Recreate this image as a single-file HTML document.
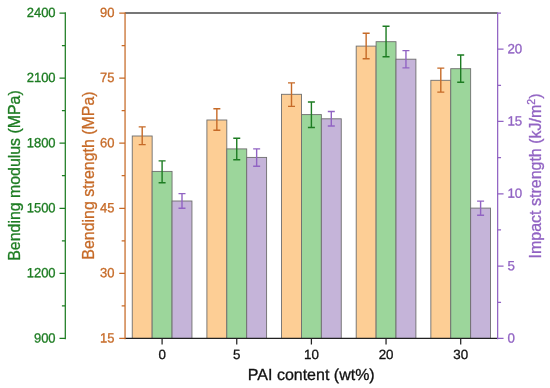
<!DOCTYPE html>
<html><head><meta charset="utf-8"><title>chart</title>
<style>html,body{margin:0;padding:0;background:#fff}svg{display:block}text{font-family:"Liberation Sans",sans-serif;stroke-width:0.3px}</style></head><body>
<svg width="550" height="388" viewBox="0 0 550 388">
<rect width="550" height="388" fill="#fff"/>
<rect x="132.25" y="136.00" width="19.90" height="202.45" fill="#fdce95" stroke="#6e6e6e" stroke-width="0.9"/>
<rect x="152.15" y="171.40" width="19.90" height="167.05" fill="#9cd69b" stroke="#6e6e6e" stroke-width="0.9"/>
<rect x="172.05" y="201.00" width="19.90" height="137.45" fill="#c5b4d9" stroke="#6e6e6e" stroke-width="0.9"/>
<rect x="206.90" y="120.00" width="19.90" height="218.45" fill="#fdce95" stroke="#6e6e6e" stroke-width="0.9"/>
<rect x="226.80" y="148.90" width="19.90" height="189.55" fill="#9cd69b" stroke="#6e6e6e" stroke-width="0.9"/>
<rect x="246.70" y="157.40" width="19.90" height="181.05" fill="#c5b4d9" stroke="#6e6e6e" stroke-width="0.9"/>
<rect x="281.55" y="94.30" width="19.90" height="244.15" fill="#fdce95" stroke="#6e6e6e" stroke-width="0.9"/>
<rect x="301.45" y="114.60" width="19.90" height="223.85" fill="#9cd69b" stroke="#6e6e6e" stroke-width="0.9"/>
<rect x="321.35" y="118.80" width="19.90" height="219.65" fill="#c5b4d9" stroke="#6e6e6e" stroke-width="0.9"/>
<rect x="356.20" y="46.10" width="19.90" height="292.35" fill="#fdce95" stroke="#6e6e6e" stroke-width="0.9"/>
<rect x="376.10" y="41.70" width="19.90" height="296.75" fill="#9cd69b" stroke="#6e6e6e" stroke-width="0.9"/>
<rect x="396.00" y="59.20" width="19.90" height="279.25" fill="#c5b4d9" stroke="#6e6e6e" stroke-width="0.9"/>
<rect x="430.85" y="80.30" width="19.90" height="258.15" fill="#fdce95" stroke="#6e6e6e" stroke-width="0.9"/>
<rect x="450.75" y="68.70" width="19.90" height="269.75" fill="#9cd69b" stroke="#6e6e6e" stroke-width="0.9"/>
<rect x="470.65" y="208.10" width="19.90" height="130.35" fill="#c5b4d9" stroke="#6e6e6e" stroke-width="0.9"/>
<path d="M142.20 126.90V144.60M138.70 126.90H145.70M138.70 144.60H145.70" stroke="#c66a27" stroke-width="1.4" fill="none"/>
<path d="M162.10 160.90V182.70M158.60 160.90H165.60M158.60 182.70H165.60" stroke="#1d7c22" stroke-width="1.4" fill="none"/>
<path d="M182.00 193.60V208.30M178.50 193.60H185.50M178.50 208.30H185.50" stroke="#9163c3" stroke-width="1.4" fill="none"/>
<path d="M216.85 108.70V130.30M213.35 108.70H220.35M213.35 130.30H220.35" stroke="#c66a27" stroke-width="1.4" fill="none"/>
<path d="M236.75 138.20V159.70M233.25 138.20H240.25M233.25 159.70H240.25" stroke="#1d7c22" stroke-width="1.4" fill="none"/>
<path d="M256.65 148.90V166.30M253.15 148.90H260.15M253.15 166.30H260.15" stroke="#9163c3" stroke-width="1.4" fill="none"/>
<path d="M291.50 82.90V106.40M288.00 82.90H295.00M288.00 106.40H295.00" stroke="#c66a27" stroke-width="1.4" fill="none"/>
<path d="M311.40 102.00V127.50M307.90 102.00H314.90M307.90 127.50H314.90" stroke="#1d7c22" stroke-width="1.4" fill="none"/>
<path d="M331.30 111.50V126.00M327.80 111.50H334.80M327.80 126.00H334.80" stroke="#9163c3" stroke-width="1.4" fill="none"/>
<path d="M366.15 33.20V58.80M362.65 33.20H369.65M362.65 58.80H369.65" stroke="#c66a27" stroke-width="1.4" fill="none"/>
<path d="M386.05 26.30V56.70M382.55 26.30H389.55M382.55 56.70H389.55" stroke="#1d7c22" stroke-width="1.4" fill="none"/>
<path d="M405.95 50.60V67.90M402.45 50.60H409.45M402.45 67.90H409.45" stroke="#9163c3" stroke-width="1.4" fill="none"/>
<path d="M440.80 68.10V92.10M437.30 68.10H444.30M437.30 92.10H444.30" stroke="#c66a27" stroke-width="1.4" fill="none"/>
<path d="M460.70 55.00V82.30M457.20 55.00H464.20M457.20 82.30H464.20" stroke="#1d7c22" stroke-width="1.4" fill="none"/>
<path d="M480.60 201.10V215.30M477.10 201.10H484.10M477.10 215.30H484.10" stroke="#9163c3" stroke-width="1.4" fill="none"/>
<path d="M125.05 13.0H497.65" stroke="#4a4a4a" stroke-width="1.4" fill="none"/>
<path d="M125.05 338.45H497.65" stroke="#222" stroke-width="1.3" fill="none"/>
<path d="M162.10 338.45V344.45M236.75 338.45V344.45M311.40 338.45V344.45M386.05 338.45V344.45M460.70 338.45V344.45" stroke="#242424" stroke-width="1.25" fill="none"/>
<text transform="translate(162.10 359.10) rotate(0.03) scale(1 1.0)" font-size="13.33" text-anchor="middle" fill="#111" stroke="#111">0</text>
<text transform="translate(236.75 359.10) rotate(0.03) scale(1 1.0)" font-size="13.33" text-anchor="middle" fill="#111" stroke="#111">5</text>
<text transform="translate(311.40 359.10) rotate(0.03) scale(1 1.0)" font-size="13.33" text-anchor="middle" fill="#111" stroke="#111">10</text>
<text transform="translate(386.05 359.10) rotate(0.03) scale(1 1.0)" font-size="13.33" text-anchor="middle" fill="#111" stroke="#111">20</text>
<text transform="translate(460.70 359.10) rotate(0.03) scale(1 1.0)" font-size="13.33" text-anchor="middle" fill="#111" stroke="#111">30</text>
<text transform="translate(311.25 380.00) rotate(0.03) scale(1 1.0)" font-size="16" text-anchor="middle" fill="#111" stroke="#111">PAI content (wt%)</text>
<path d="M65.3 12.3V339.15M65.3 338.45h-5.8M65.3 305.90h-3.4M65.3 273.36h-5.8M65.3 240.81h-3.4M65.3 208.27h-5.8M65.3 175.72h-3.4M65.3 143.18h-5.8M65.3 110.63h-3.4M65.3 78.09h-5.8M65.3 45.55h-3.4M65.3 13.00h-5.8" stroke="#1d7c22" stroke-width="1.25" fill="none"/>
<text transform="translate(55.60 342.45) rotate(0.03) scale(0.975 1.0)" font-size="13.33" text-anchor="end" fill="#1d7c22" stroke="#1d7c22">900</text>
<text transform="translate(55.60 277.36) rotate(0.03) scale(0.975 1.0)" font-size="13.33" text-anchor="end" fill="#1d7c22" stroke="#1d7c22">1200</text>
<text transform="translate(55.60 212.27) rotate(0.03) scale(0.975 1.0)" font-size="13.33" text-anchor="end" fill="#1d7c22" stroke="#1d7c22">1500</text>
<text transform="translate(55.60 147.18) rotate(0.03) scale(0.975 1.0)" font-size="13.33" text-anchor="end" fill="#1d7c22" stroke="#1d7c22">1800</text>
<text transform="translate(55.60 82.09) rotate(0.03) scale(0.975 1.0)" font-size="13.33" text-anchor="end" fill="#1d7c22" stroke="#1d7c22">2100</text>
<text transform="translate(55.60 17.00) rotate(0.03) scale(0.975 1.0)" font-size="13.33" text-anchor="end" fill="#1d7c22" stroke="#1d7c22">2400</text>
<path d="M125.05 12.3V339.15M125.05 338.45h-5.8M125.05 305.90h-3.4M125.05 273.36h-5.8M125.05 240.81h-3.4M125.05 208.27h-5.8M125.05 175.72h-3.4M125.05 143.18h-5.8M125.05 110.63h-3.4M125.05 78.09h-5.8M125.05 45.55h-3.4M125.05 13.00h-5.8" stroke="#c66a27" stroke-width="1.25" fill="none"/>
<text transform="translate(114.50 342.45) rotate(0.03) scale(0.975 1.0)" font-size="13.33" text-anchor="end" fill="#c66a27" stroke="#c66a27">15</text>
<text transform="translate(114.50 277.36) rotate(0.03) scale(0.975 1.0)" font-size="13.33" text-anchor="end" fill="#c66a27" stroke="#c66a27">30</text>
<text transform="translate(114.50 212.27) rotate(0.03) scale(0.975 1.0)" font-size="13.33" text-anchor="end" fill="#c66a27" stroke="#c66a27">45</text>
<text transform="translate(114.50 147.18) rotate(0.03) scale(0.975 1.0)" font-size="13.33" text-anchor="end" fill="#c66a27" stroke="#c66a27">60</text>
<text transform="translate(114.50 82.09) rotate(0.03) scale(0.975 1.0)" font-size="13.33" text-anchor="end" fill="#c66a27" stroke="#c66a27">75</text>
<text transform="translate(114.50 17.00) rotate(0.03) scale(0.975 1.0)" font-size="13.33" text-anchor="end" fill="#c66a27" stroke="#c66a27">90</text>
<path d="M497.65 12.3V339.15M497.65 13.0h3.3M497.65 338.45h5.9M497.65 302.29h3.4M497.65 266.13h5.9M497.65 229.97h3.4M497.65 193.81h5.9M497.65 157.64h3.4M497.65 121.48h5.9M497.65 85.32h3.4M497.65 49.16h5.9" stroke="#9163c3" stroke-width="1.25" fill="none"/>
<text transform="translate(507.40 342.45) rotate(0.03) scale(1 1.0)" font-size="13.33" text-anchor="start" fill="#9163c3" stroke="#9163c3">0</text>
<text transform="translate(507.40 270.13) rotate(0.03) scale(1 1.0)" font-size="13.33" text-anchor="start" fill="#9163c3" stroke="#9163c3">5</text>
<text transform="translate(507.40 197.81) rotate(0.03) scale(1 1.0)" font-size="13.33" text-anchor="start" fill="#9163c3" stroke="#9163c3">10</text>
<text transform="translate(507.40 125.48) rotate(0.03) scale(1 1.0)" font-size="13.33" text-anchor="start" fill="#9163c3" stroke="#9163c3">15</text>
<text transform="translate(507.40 53.16) rotate(0.03) scale(1 1.0)" font-size="13.33" text-anchor="start" fill="#9163c3" stroke="#9163c3">20</text>
<text transform="translate(20.00 175.50) rotate(-90) scale(1 1.0)" font-size="15.9" text-anchor="middle" fill="#1d7c22" stroke="#1d7c22">Bending modulus (MPa)</text>
<text transform="translate(93.50 175.50) rotate(-90) scale(1 1.0)" font-size="15.95" text-anchor="middle" fill="#c66a27" stroke="#c66a27">Bending strength (MPa)</text>
<text transform="translate(540.60 176.00) rotate(-90) scale(1 1.0)" font-size="16" text-anchor="middle" fill="#9163c3" stroke="#9163c3">Impact strength (kJ/m<tspan font-size="10.5" dy="-6">2</tspan><tspan dy="6">)</tspan></text>
</svg></body></html>
